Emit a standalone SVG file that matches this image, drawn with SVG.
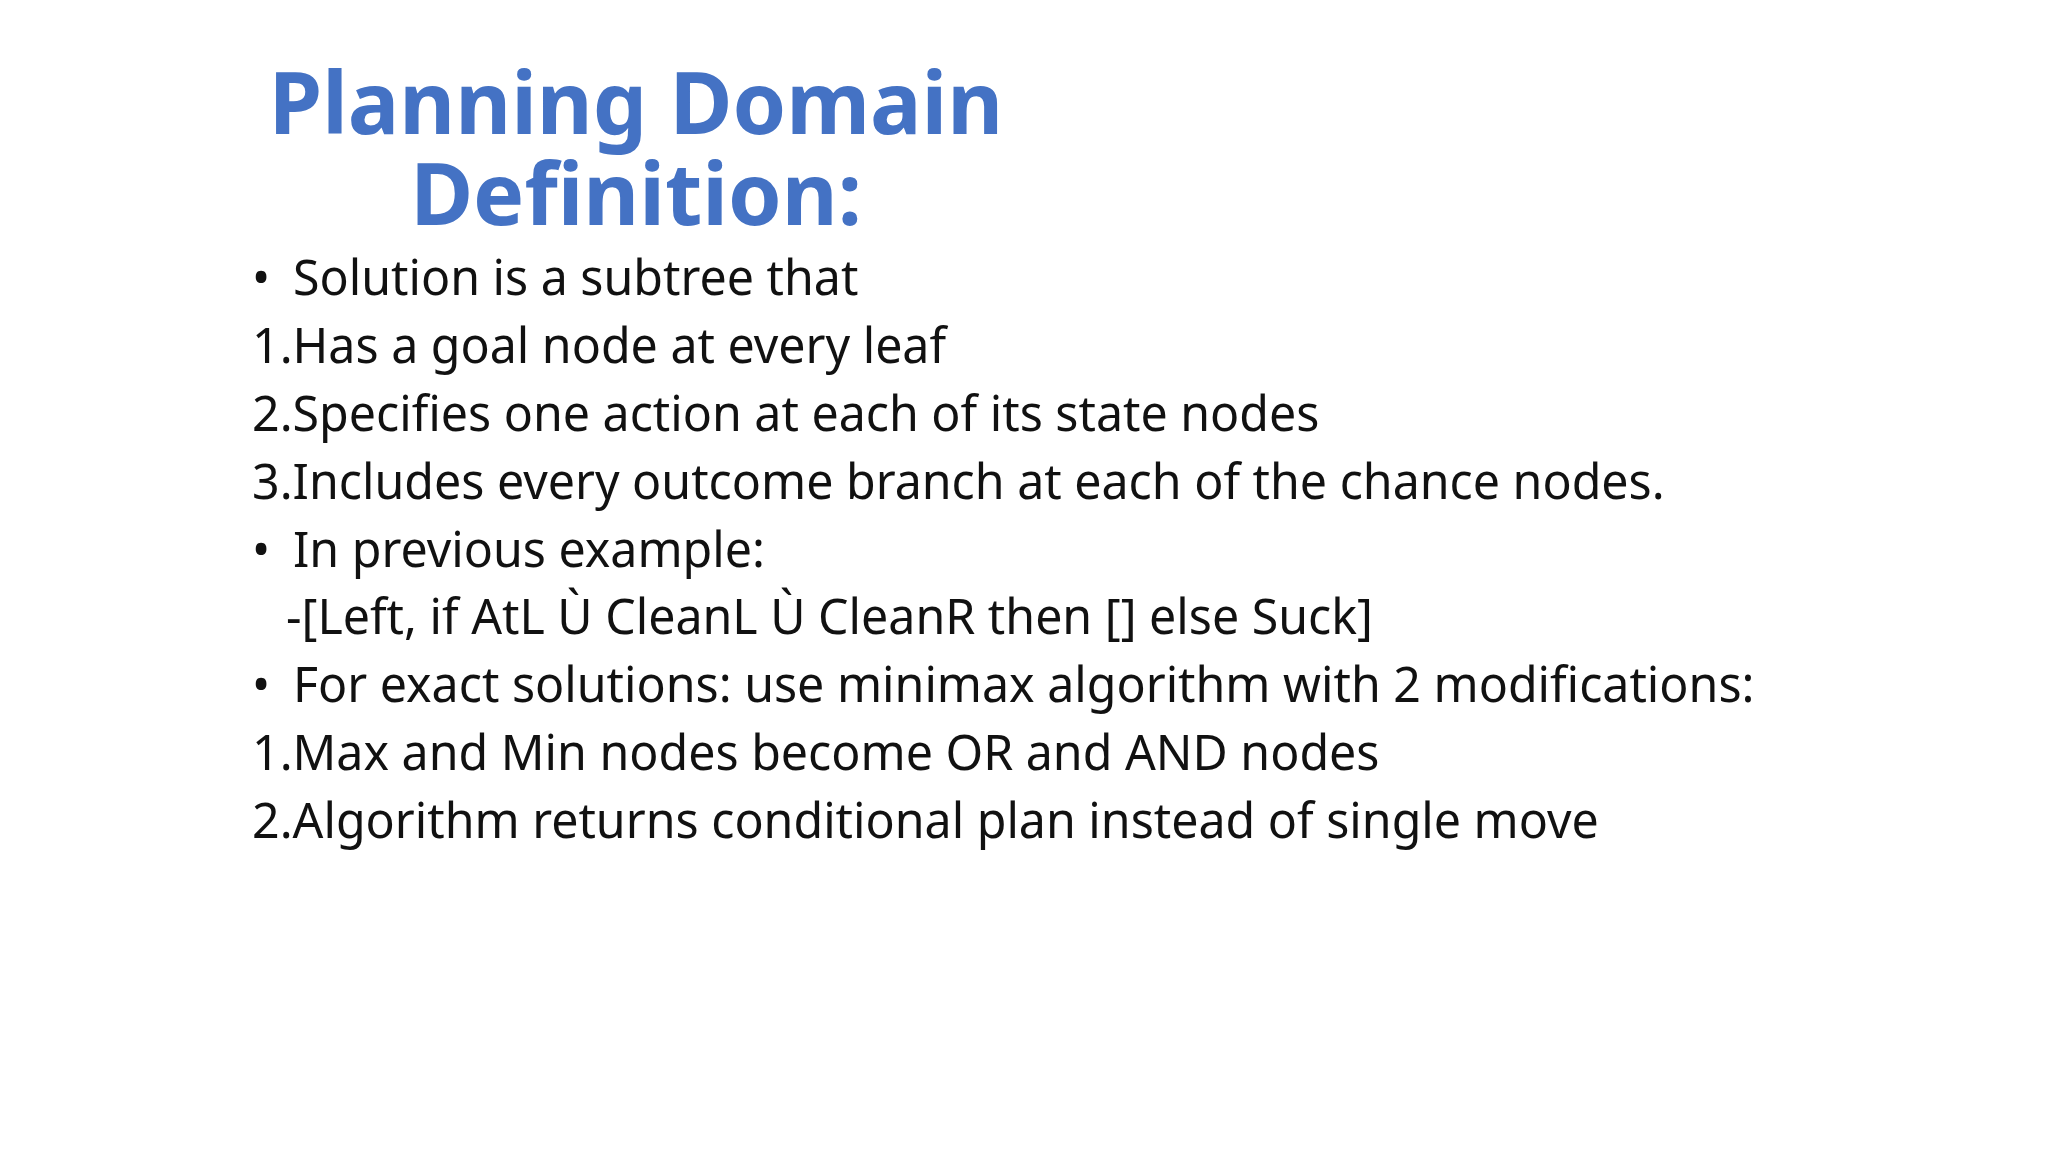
<svg xmlns="http://www.w3.org/2000/svg" width="2048" height="1152" viewBox="0 0 2048 1152">
<style>
.t{font-family:"Noto Sans","Open Sans",sans-serif;font-weight:bold;font-size:86px;fill:#4472C4;text-anchor:middle}
.b{font-family:"Noto Sans","Open Sans",sans-serif;font-size:48.3px;fill:#111}
</style>
<rect width="2048" height="1152" fill="#fff"/>
<g id="title">
<text class="t" x="636" y="134">Planning Domain</text>
<text class="t" x="636" y="225">Definition:</text>
</g>
<g id="body">
<text class="b" x="252" y="295">•</text><text class="b" x="293" y="295">Solution is a subtree that</text>
<text class="b" x="252" y="363">1.Has a goal node at every leaf</text>
<text class="b" x="252" y="431">2.Specifies one action at each of its state nodes</text>
<text class="b" x="252" y="499">3.Includes every outcome branch at each of the chance nodes.</text>
<text class="b" x="252" y="567">•</text><text class="b" x="293" y="567">In previous example:</text>
<text class="b" x="286" y="634">-[Left, if AtL Ù CleanL Ù CleanR then [] else Suck]</text>
<text class="b" x="252" y="702">•</text><text class="b" x="293" y="702">For exact solutions: use minimax algorithm with 2 modifications:</text>
<text class="b" x="252" y="770">1.Max and Min nodes become OR and AND nodes</text>
<text class="b" x="252" y="838">2.Algorithm returns conditional plan instead of single move</text>
</g>
</svg>
